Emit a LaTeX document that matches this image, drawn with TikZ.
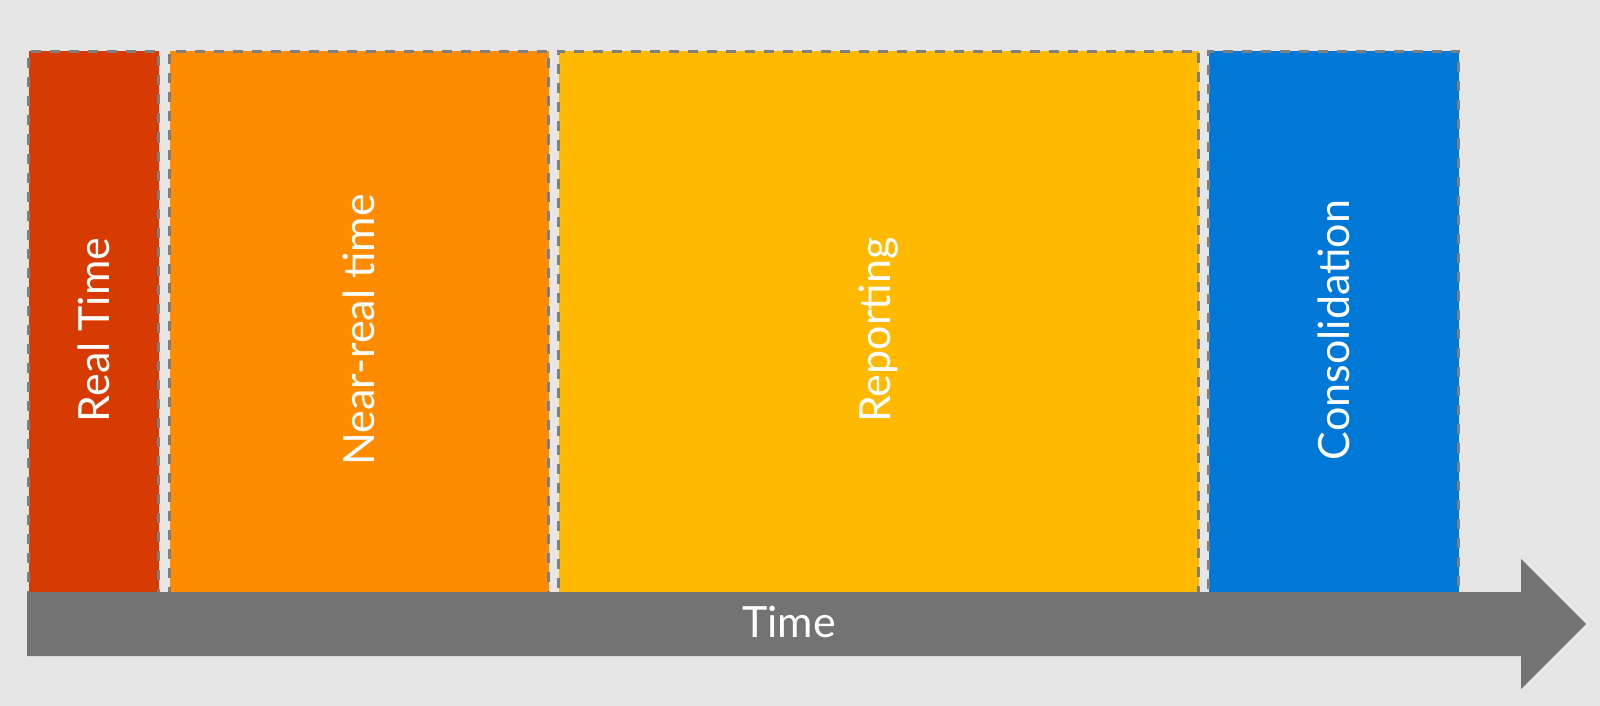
\documentclass[tikz,border=0pt]{standalone}
\usepackage{fontspec}
\setmainfont{Lato}
\definecolor{bggray}{HTML}{E6E6E6}
\definecolor{dashgray}{HTML}{7F7F7F}
\definecolor{rtred}{HTML}{D83B01}
\definecolor{nrtorange}{HTML}{FF8C00}
\definecolor{repyellow}{HTML}{FFB900}
\definecolor{consblue}{HTML}{0078D7}
\definecolor{arrowgray}{HTML}{737373}
\begin{document}
\begin{tikzpicture}[x=1pt,y=-1pt,
  band/.style={draw=dashgray, line width=3pt, dash pattern=on 10pt off 9pt, anchor=north west, inner sep=0pt, minimum height=550pt},
  lbl/.style={text=white, font=\fontsize{43}{50}\selectfont, rotate=90, inner sep=0pt}]
\fill[bggray] (0,0) rectangle (1600,706);
\useasboundingbox (0,0) rectangle (1600,706);
\node[band, fill=rtred, minimum width=130pt] (rt) at (27,50) {};
\node[band, fill=nrtorange, minimum width=379pt] (nrt) at (168,50) {};
\node[band, fill=repyellow, minimum width=640pt] (rep) at (557,50) {};
\node[band, fill=consblue, minimum width=250pt] (cons) at (1207,50) {};
\node[lbl] (rtl) at (rt.center |- 0,330) {Real Time};
\node[lbl] (nrtl) at (nrt.center |- 0,330) {Near-real time};
\node[lbl] (repl) at (rep.center |- 0,330) {Reporting};
\node[lbl] (consl) at (cons.center |- 0,330) {Consolidation};
\fill[arrowgray] (27,592) -- (1521,592) -- (1521,559) -- (1586,624) -- (1521,689) -- (1521,656) -- (27,656) -- cycle;
\node[text=white, font=\fontsize{43}{50}\selectfont, anchor=base, inner sep=0pt] (timel) at (789,637) {Time};
\end{tikzpicture}
\end{document}
